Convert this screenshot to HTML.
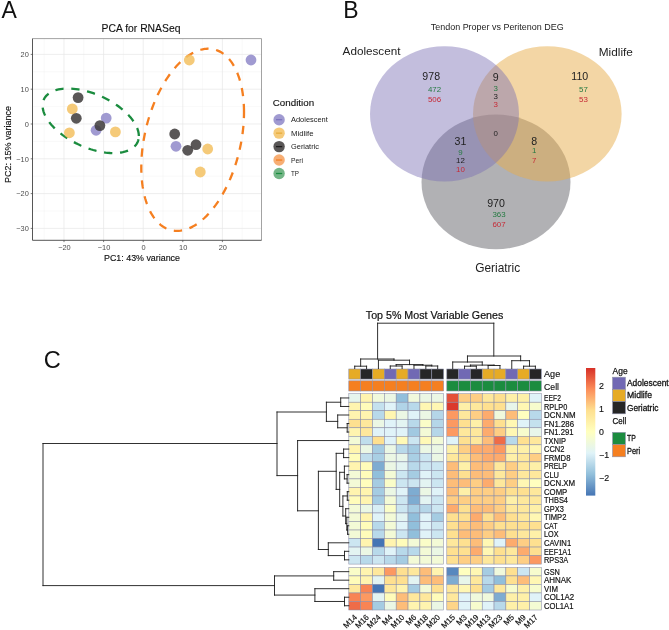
<!DOCTYPE html>
<html><head><meta charset="utf-8"><title>Figure</title>
<style>html,body{margin:0;padding:0;background:#fff}svg{display:block}text{font-family:"Liberation Sans", sans-serif}</style></head><body>
<svg width="669" height="630" viewBox="0 0 669 630">
<rect width="669" height="630" fill="#fff"/>
<g id="panelA">
<text x="1.5" y="18.4" font-size="23" fill="#111" text-anchor="start">A</text>
<text x="101.5" y="31.8" font-size="10.4" fill="#111" text-anchor="start" textLength="79" lengthAdjust="spacingAndGlyphs" stroke="#111" stroke-width="0.12">PCA for RNASeq</text>
<rect x="32.5" y="38.6" width="229.0" height="201.70000000000002" fill="#fff"/>
<path d="M44.20 38.6V240.3M83.80 38.6V240.3M123.40 38.6V240.3M163.00 38.6V240.3M202.60 38.6V240.3M242.20 38.6V240.3M32.5 211.00H261.5M32.5 176.20H261.5M32.5 141.40H261.5M32.5 106.60H261.5M32.5 71.80H261.5" stroke="#efefef" stroke-width="0.4" fill="none"/>
<path d="M64.00 38.6V240.3M103.60 38.6V240.3M143.20 38.6V240.3M182.80 38.6V240.3M222.40 38.6V240.3M32.5 228.40H261.5M32.5 193.60H261.5M32.5 158.80H261.5M32.5 124.00H261.5M32.5 89.20H261.5M32.5 54.40H261.5" stroke="#e6e6e6" stroke-width="0.7" fill="none"/>
<path d="M64.00 240.3v1.8M103.60 240.3v1.8M143.20 240.3v1.8M182.80 240.3v1.8M222.40 240.3v1.8M32.5 228.40h-1.8M32.5 193.60h-1.8M32.5 158.80h-1.8M32.5 124.00h-1.8M32.5 89.20h-1.8M32.5 54.40h-1.8" stroke="#444" stroke-width="0.7" fill="none"/>
<path d="M32.5 38.6H261.5V240.3" fill="none" stroke="#8c8c8c" stroke-width="0.8"/>
<path d="M32.5 38.6V240.3H261.5" fill="none" stroke="#444" stroke-width="0.9"/>
<text x="64.4" y="249.9" font-size="7.4" fill="#4d4d4d" text-anchor="middle">−20</text>
<text x="104.0" y="249.9" font-size="7.4" fill="#4d4d4d" text-anchor="middle">−10</text>
<text x="143.6" y="249.9" font-size="7.4" fill="#4d4d4d" text-anchor="middle">0</text>
<text x="183.2" y="249.9" font-size="7.4" fill="#4d4d4d" text-anchor="middle">10</text>
<text x="222.8" y="249.9" font-size="7.4" fill="#4d4d4d" text-anchor="middle">20</text>
<text x="28.8" y="231.1" font-size="7.4" fill="#4d4d4d" text-anchor="end">−30</text>
<text x="28.8" y="196.3" font-size="7.4" fill="#4d4d4d" text-anchor="end">−20</text>
<text x="28.8" y="161.5" font-size="7.4" fill="#4d4d4d" text-anchor="end">−10</text>
<text x="28.8" y="126.7" font-size="7.4" fill="#4d4d4d" text-anchor="end">0</text>
<text x="28.8" y="91.9" font-size="7.4" fill="#4d4d4d" text-anchor="end">10</text>
<text x="28.8" y="57.1" font-size="7.4" fill="#4d4d4d" text-anchor="end">20</text>
<text x="142" y="261.3" font-size="9.4" fill="#111" text-anchor="middle" textLength="76" lengthAdjust="spacingAndGlyphs" stroke="#111" stroke-width="0.15">PC1: 43% variance</text>
<text transform="translate(11.3,144.5) rotate(-90)" font-size="9.4" fill="#111" stroke="#111" stroke-width="0.15" text-anchor="middle" textLength="77" lengthAdjust="spacingAndGlyphs">PC2: 15% variance</text>
<path d="M138.84 136.07L138.78 134.56L138.58 133.01L138.26 131.43L137.80 129.82L137.21 128.18L136.50 126.53L135.66 124.86L134.70 123.18L133.61 121.49L132.41 119.80L131.10 118.11L129.67 116.43L128.14 114.76L126.50 113.11L124.77 111.48L122.94 109.88L121.03 108.30L119.03 106.76L116.95 105.26L114.80 103.80L112.59 102.39L110.32 101.03L107.99 99.72L105.61 98.47L103.20 97.28L100.75 96.15L98.27 95.10L95.77 94.11L93.26 93.20L90.74 92.36L88.22 91.60L85.71 90.92L83.21 90.32L80.73 89.81L78.28 89.38L75.86 89.03L73.48 88.78L71.15 88.61L68.88 88.53L66.66 88.54L64.51 88.63L62.43 88.82L60.43 89.09L58.51 89.45L56.68 89.89L54.95 90.42L53.31 91.04L51.77 91.73L50.34 92.51L49.03 93.36L47.82 94.29L46.73 95.29L45.77 96.36L44.92 97.49L44.21 98.69L43.62 99.95L43.15 101.27L42.82 102.65L42.62 104.07L42.56 105.53L42.62 107.04L42.82 108.59L43.14 110.17L43.60 111.78L44.19 113.42L44.90 115.07L45.74 116.74L46.70 118.42L47.79 120.11L48.99 121.80L50.30 123.49L51.73 125.17L53.26 126.84L54.90 128.49L56.63 130.12L58.46 131.72L60.37 133.30L62.37 134.84L64.45 136.34L66.60 137.80L68.81 139.21L71.08 140.57L73.41 141.88L75.79 143.13L78.20 144.32L80.65 145.45L83.13 146.50L85.63 147.49L88.14 148.40L90.66 149.24L93.18 150.00L95.69 150.68L98.19 151.28L100.67 151.79L103.12 152.22L105.54 152.57L107.92 152.82L110.25 152.99L112.52 153.07L114.74 153.06L116.89 152.97L118.97 152.78L120.97 152.51L122.89 152.15L124.72 151.71L126.45 151.18L128.09 150.56L129.63 149.87L131.06 149.09L132.37 148.24L133.58 147.31L134.67 146.31L135.63 145.24L136.48 144.11L137.19 142.91L137.78 141.65L138.25 140.33L138.58 138.95L138.78 137.53L138.84 136.07" fill="none" stroke="#1b8c3f" stroke-width="2.3" stroke-dasharray="8.3 7.7" stroke-linejoin="round"/>
<path d="M244.02 112.20L243.98 108.82L243.86 105.48L243.66 102.19L243.38 98.97L243.03 95.80L242.60 92.70L242.09 89.68L241.50 86.73L240.84 83.87L240.10 81.09L239.30 78.40L238.41 75.81L237.46 73.31L236.44 70.92L235.35 68.63L234.20 66.46L232.98 64.39L231.70 62.44L230.36 60.62L228.96 58.91L227.51 57.33L226.00 55.88L224.44 54.55L222.83 53.36L221.18 52.30L219.48 51.37L217.74 50.58L215.96 49.93L214.14 49.42L212.30 49.05L210.42 48.81L208.51 48.72L206.58 48.77L204.63 48.96L202.66 49.29L200.67 49.75L198.67 50.36L196.67 51.10L194.65 51.98L192.64 53.00L190.62 54.15L188.61 55.43L186.60 56.85L184.60 58.39L182.61 60.05L180.64 61.84L178.69 63.75L176.76 65.78L174.86 67.92L172.98 70.17L171.13 72.53L169.32 74.99L167.54 77.55L165.80 80.21L164.10 82.96L162.44 85.80L160.84 88.72L159.28 91.72L157.77 94.79L156.32 97.94L154.92 101.14L153.58 104.41L152.30 107.73L151.08 111.11L149.93 114.52L148.84 117.98L147.82 121.46L146.87 124.98L145.99 128.52L145.19 132.08L144.45 135.65L143.79 139.22L143.21 142.80L142.70 146.37L142.27 149.93L141.91 153.48L141.64 157.00L141.44 160.50L141.32 163.97L141.28 167.40L141.32 170.78L141.44 174.12L141.64 177.41L141.92 180.63L142.27 183.80L142.70 186.90L143.21 189.92L143.80 192.87L144.46 195.73L145.20 198.51L146.00 201.20L146.89 203.79L147.84 206.29L148.86 208.68L149.95 210.97L151.10 213.14L152.32 215.21L153.60 217.16L154.94 218.98L156.34 220.69L157.79 222.27L159.30 223.72L160.86 225.05L162.47 226.24L164.12 227.30L165.82 228.23L167.56 229.02L169.34 229.67L171.16 230.18L173.00 230.55L174.88 230.79L176.79 230.88L178.72 230.83L180.67 230.64L182.64 230.31L184.63 229.85L186.63 229.24L188.63 228.50L190.65 227.62L192.66 226.60L194.68 225.45L196.69 224.17L198.70 222.75L200.70 221.21L202.69 219.55L204.66 217.76L206.61 215.85L208.54 213.82L210.44 211.68L212.32 209.43L214.17 207.07L215.98 204.61L217.76 202.05L219.50 199.39L221.20 196.64L222.86 193.80L224.46 190.88L226.02 187.88L227.53 184.81L228.98 181.66L230.38 178.46L231.72 175.19L233.00 171.87L234.22 168.49L235.37 165.08L236.46 161.62L237.48 158.14L238.43 154.62L239.31 151.08L240.11 147.52L240.85 143.95L241.51 140.38L242.09 136.80L242.60 133.23L243.03 129.67L243.39 126.12L243.66 122.60L243.86 119.10L243.98 115.63L244.02 112.20" fill="none" stroke="#f57f20" stroke-width="2.3" stroke-dasharray="8.3 7.7" stroke-linejoin="round"/>
<circle cx="251" cy="60" r="5.4" fill="#8f88c9" fill-opacity="0.85"/>
<circle cx="189.3" cy="60" r="5.4" fill="#f3c162" fill-opacity="0.85"/>
<circle cx="78.1" cy="97.6" r="5.4" fill="#3d3a3a" fill-opacity="0.85"/>
<circle cx="72.3" cy="108.9" r="5.4" fill="#f3c162" fill-opacity="0.85"/>
<circle cx="76.3" cy="118.3" r="5.4" fill="#3d3a3a" fill-opacity="0.85"/>
<circle cx="106.2" cy="118.1" r="5.4" fill="#8f88c9" fill-opacity="0.85"/>
<circle cx="96.1" cy="130.3" r="5.4" fill="#8f88c9" fill-opacity="0.85"/>
<circle cx="99.9" cy="125.6" r="5.4" fill="#3d3a3a" fill-opacity="0.85"/>
<circle cx="69.4" cy="132.8" r="5.4" fill="#f3c162" fill-opacity="0.85"/>
<circle cx="115.4" cy="131.9" r="5.4" fill="#f3c162" fill-opacity="0.85"/>
<circle cx="174.7" cy="134" r="5.4" fill="#3d3a3a" fill-opacity="0.85"/>
<circle cx="176" cy="146.3" r="5.4" fill="#8f88c9" fill-opacity="0.85"/>
<circle cx="187.7" cy="150.3" r="5.4" fill="#3d3a3a" fill-opacity="0.85"/>
<circle cx="196" cy="144.7" r="5.4" fill="#3d3a3a" fill-opacity="0.85"/>
<circle cx="207.7" cy="149" r="5.4" fill="#f3c162" fill-opacity="0.85"/>
<circle cx="200.3" cy="172" r="5.4" fill="#f3c162" fill-opacity="0.85"/>
<text x="272.8" y="106.3" font-size="9" fill="#111" text-anchor="start" textLength="41.3" lengthAdjust="spacingAndGlyphs" stroke="#111" stroke-width="0.12">Condition</text>
<circle cx="279.1" cy="119.70" r="5.7" fill="#8f88c9" fill-opacity="0.85"/>
<path d="M276 119.70h6.2" stroke="#7d74bd" stroke-width="1.3"/>
<text x="291" y="122.40" font-size="7.7" fill="#1a1a1a" text-anchor="start" textLength="36.8" lengthAdjust="spacingAndGlyphs">Adolescent</text>
<circle cx="279.1" cy="133.15" r="5.7" fill="#f3c162" fill-opacity="0.85"/>
<path d="M276 133.15h6.2" stroke="#e8ad3a" stroke-width="1.3"/>
<text x="291" y="135.85" font-size="7.7" fill="#1a1a1a" text-anchor="start" textLength="22.5" lengthAdjust="spacingAndGlyphs">Midlife</text>
<circle cx="279.1" cy="146.60" r="5.7" fill="#3d3a3a" fill-opacity="0.85"/>
<path d="M276 146.60h6.2" stroke="#1e1c1c" stroke-width="1.3"/>
<text x="291" y="149.30" font-size="7.7" fill="#1a1a1a" text-anchor="start" textLength="28" lengthAdjust="spacingAndGlyphs">Geriatric</text>
<circle cx="279.1" cy="160.05" r="5.7" fill="#f6a05c" fill-opacity="0.85"/>
<path d="M276 160.05h6.2" stroke="#f57f20" stroke-width="1.3"/>
<text x="291" y="162.75" font-size="7.7" fill="#1a1a1a" text-anchor="start" textLength="12" lengthAdjust="spacingAndGlyphs">Peri</text>
<circle cx="279.1" cy="173.50" r="5.7" fill="#5aa871" fill-opacity="0.85"/>
<path d="M276 173.50h6.2" stroke="#1b8c3f" stroke-width="1.3"/>
<text x="291" y="176.20" font-size="7.7" fill="#1a1a1a" text-anchor="start" textLength="8" lengthAdjust="spacingAndGlyphs">TP</text>
</g>
<g id="panelB">
<text x="343.2" y="18.1" font-size="23" fill="#111" text-anchor="start">B</text>
<text x="430.8" y="29.8" font-size="8.6" fill="#222" text-anchor="start" textLength="132.8" lengthAdjust="spacingAndGlyphs">Tendon Proper vs Peritenon DEG</text>
<ellipse cx="496" cy="181.9" rx="74.5" ry="67.4" fill="#54555c" fill-opacity="0.46"/>
<ellipse cx="547.3" cy="113.9" rx="74.3" ry="67.6" fill="#e7ad4b" fill-opacity="0.5"/>
<ellipse cx="444.5" cy="113.9" rx="74.5" ry="67.6" fill="#7b6eb4" fill-opacity="0.45"/>
<text x="342.6" y="55.4" font-size="11.7" fill="#222" text-anchor="start">Adolescent</text>
<text x="598.8" y="55.8" font-size="11.8" fill="#222" text-anchor="start">Midlife</text>
<text x="475.2" y="272.2" font-size="11.9" fill="#222" text-anchor="start">Geriatric</text>
<text x="431.2" y="80.2" font-size="10.6" fill="#222" text-anchor="middle">978</text>
<text x="434.5" y="92.2" font-size="7.9" fill="#257a42" text-anchor="middle">472</text>
<text x="434.5" y="102.3" font-size="7.9" fill="#c62a36" text-anchor="middle">506</text>
<text x="495.6" y="80.89999999999999" font-size="10.6" fill="#222" text-anchor="middle">9</text>
<text x="495.6" y="91.39999999999999" font-size="7.9" fill="#257a42" text-anchor="middle">3</text>
<text x="495.6" y="99.3" font-size="7.9" fill="#222" text-anchor="middle">3</text>
<text x="495.6" y="107.3" font-size="7.9" fill="#c62a36" text-anchor="middle">3</text>
<text x="579.8" y="80.2" font-size="10.6" fill="#222" text-anchor="middle">110</text>
<text x="583.5" y="92.2" font-size="7.9" fill="#257a42" text-anchor="middle">57</text>
<text x="583.5" y="102.3" font-size="7.9" fill="#c62a36" text-anchor="middle">53</text>
<text x="495.6" y="135.70000000000002" font-size="7.9" fill="#222" text-anchor="middle">0</text>
<text x="460.5" y="144.60000000000002" font-size="10.6" fill="#222" text-anchor="middle">31</text>
<text x="460.5" y="154.8" font-size="7.9" fill="#257a42" text-anchor="middle">9</text>
<text x="460.5" y="163.20000000000002" font-size="7.9" fill="#222" text-anchor="middle">12</text>
<text x="460.5" y="171.9" font-size="7.9" fill="#c62a36" text-anchor="middle">10</text>
<text x="534.1" y="144.60000000000002" font-size="10.6" fill="#222" text-anchor="middle">8</text>
<text x="534.1" y="153.3" font-size="7.9" fill="#257a42" text-anchor="middle">1</text>
<text x="534.1" y="163.0" font-size="7.9" fill="#c62a36" text-anchor="middle">7</text>
<text x="496" y="207.10000000000002" font-size="10.6" fill="#222" text-anchor="middle">970</text>
<text x="499" y="217.0" font-size="7.9" fill="#257a42" text-anchor="middle">363</text>
<text x="499" y="227.0" font-size="7.9" fill="#c62a36" text-anchor="middle">607</text>
</g>
<g id="panelC">
<text x="43.8" y="368.2" font-size="23.6" fill="#111" text-anchor="start">C</text>
<text x="365.8" y="319.2" font-size="10.4" fill="#111" text-anchor="start" textLength="137.5" lengthAdjust="spacingAndGlyphs" stroke="#111" stroke-width="0.2">Top 5% Most Variable Genes</text>
<rect x="348.80" y="393.70" width="11.85" height="8.52" fill="#e6f5ed" stroke="#8c8fa8" stroke-width="0.55"/>
<rect x="360.65" y="393.70" width="11.85" height="8.52" fill="#fff4af" stroke="#8c8fa8" stroke-width="0.55"/>
<rect x="372.50" y="393.70" width="11.85" height="8.52" fill="#f0f9dc" stroke="#8c8fa8" stroke-width="0.55"/>
<rect x="384.35" y="393.70" width="11.85" height="8.52" fill="#ebf7e4" stroke="#8c8fa8" stroke-width="0.55"/>
<rect x="396.20" y="393.70" width="11.85" height="8.52" fill="#91bfdb" stroke="#8c8fa8" stroke-width="0.55"/>
<rect x="408.05" y="393.70" width="11.85" height="8.52" fill="#f0f9dc" stroke="#8c8fa8" stroke-width="0.55"/>
<rect x="419.90" y="393.70" width="11.85" height="8.52" fill="#ebf7e4" stroke="#8c8fa8" stroke-width="0.55"/>
<rect x="431.75" y="393.70" width="11.85" height="8.52" fill="#ebf7e4" stroke="#8c8fa8" stroke-width="0.55"/>
<rect x="348.80" y="402.22" width="11.85" height="8.52" fill="#fff4af" stroke="#8c8fa8" stroke-width="0.55"/>
<rect x="360.65" y="402.22" width="11.85" height="8.52" fill="#fffcba" stroke="#8c8fa8" stroke-width="0.55"/>
<rect x="372.50" y="402.22" width="11.85" height="8.52" fill="#c4e1ee" stroke="#8c8fa8" stroke-width="0.55"/>
<rect x="384.35" y="402.22" width="11.85" height="8.52" fill="#e0f3f8" stroke="#8c8fa8" stroke-width="0.55"/>
<rect x="396.20" y="402.22" width="11.85" height="8.52" fill="#b1d4e7" stroke="#8c8fa8" stroke-width="0.55"/>
<rect x="408.05" y="402.22" width="11.85" height="8.52" fill="#b8d9ea" stroke="#8c8fa8" stroke-width="0.55"/>
<rect x="419.90" y="402.22" width="11.85" height="8.52" fill="#fff7b3" stroke="#8c8fa8" stroke-width="0.55"/>
<rect x="431.75" y="402.22" width="11.85" height="8.52" fill="#fff7b3" stroke="#8c8fa8" stroke-width="0.55"/>
<rect x="348.80" y="410.74" width="11.85" height="8.52" fill="#fff4af" stroke="#8c8fa8" stroke-width="0.55"/>
<rect x="360.65" y="410.74" width="11.85" height="8.52" fill="#fff4af" stroke="#8c8fa8" stroke-width="0.55"/>
<rect x="372.50" y="410.74" width="11.85" height="8.52" fill="#b8d9ea" stroke="#8c8fa8" stroke-width="0.55"/>
<rect x="384.35" y="410.74" width="11.85" height="8.52" fill="#fff6b1" stroke="#8c8fa8" stroke-width="0.55"/>
<rect x="396.20" y="410.74" width="11.85" height="8.52" fill="#ebf7e4" stroke="#8c8fa8" stroke-width="0.55"/>
<rect x="408.05" y="410.74" width="11.85" height="8.52" fill="#e0f3f8" stroke="#8c8fa8" stroke-width="0.55"/>
<rect x="419.90" y="410.74" width="11.85" height="8.52" fill="#ebf7e4" stroke="#8c8fa8" stroke-width="0.55"/>
<rect x="431.75" y="410.74" width="11.85" height="8.52" fill="#b5d6e8" stroke="#8c8fa8" stroke-width="0.55"/>
<rect x="348.80" y="419.26" width="11.85" height="8.52" fill="#fee090" stroke="#8c8fa8" stroke-width="0.55"/>
<rect x="360.65" y="419.26" width="11.85" height="8.52" fill="#fee89c" stroke="#8c8fa8" stroke-width="0.55"/>
<rect x="372.50" y="419.26" width="11.85" height="8.52" fill="#ebf7e4" stroke="#8c8fa8" stroke-width="0.55"/>
<rect x="384.35" y="419.26" width="11.85" height="8.52" fill="#e0f3f8" stroke="#8c8fa8" stroke-width="0.55"/>
<rect x="396.20" y="419.26" width="11.85" height="8.52" fill="#e3f4f2" stroke="#8c8fa8" stroke-width="0.55"/>
<rect x="408.05" y="419.26" width="11.85" height="8.52" fill="#b8d9ea" stroke="#8c8fa8" stroke-width="0.55"/>
<rect x="419.90" y="419.26" width="11.85" height="8.52" fill="#fafdc8" stroke="#8c8fa8" stroke-width="0.55"/>
<rect x="431.75" y="419.26" width="11.85" height="8.52" fill="#b5d6e8" stroke="#8c8fa8" stroke-width="0.55"/>
<rect x="348.80" y="427.78" width="11.85" height="8.52" fill="#fff4af" stroke="#8c8fa8" stroke-width="0.55"/>
<rect x="360.65" y="427.78" width="11.85" height="8.52" fill="#fee89c" stroke="#8c8fa8" stroke-width="0.55"/>
<rect x="372.50" y="427.78" width="11.85" height="8.52" fill="#e0f3f8" stroke="#8c8fa8" stroke-width="0.55"/>
<rect x="384.35" y="427.78" width="11.85" height="8.52" fill="#e0f3f8" stroke="#8c8fa8" stroke-width="0.55"/>
<rect x="396.20" y="427.78" width="11.85" height="8.52" fill="#e0f3f8" stroke="#8c8fa8" stroke-width="0.55"/>
<rect x="408.05" y="427.78" width="11.85" height="8.52" fill="#a1c9e1" stroke="#8c8fa8" stroke-width="0.55"/>
<rect x="419.90" y="427.78" width="11.85" height="8.52" fill="#f3fad6" stroke="#8c8fa8" stroke-width="0.55"/>
<rect x="431.75" y="427.78" width="11.85" height="8.52" fill="#b5d6e8" stroke="#8c8fa8" stroke-width="0.55"/>
<rect x="348.80" y="436.30" width="11.85" height="8.52" fill="#f3fad6" stroke="#8c8fa8" stroke-width="0.55"/>
<rect x="360.65" y="436.30" width="11.85" height="8.52" fill="#c0deec" stroke="#8c8fa8" stroke-width="0.55"/>
<rect x="372.50" y="436.30" width="11.85" height="8.52" fill="#fee090" stroke="#8c8fa8" stroke-width="0.55"/>
<rect x="384.35" y="436.30" width="11.85" height="8.52" fill="#e0f3f8" stroke="#8c8fa8" stroke-width="0.55"/>
<rect x="396.20" y="436.30" width="11.85" height="8.52" fill="#fff9b6" stroke="#8c8fa8" stroke-width="0.55"/>
<rect x="408.05" y="436.30" width="11.85" height="8.52" fill="#cce6f1" stroke="#8c8fa8" stroke-width="0.55"/>
<rect x="419.90" y="436.30" width="11.85" height="8.52" fill="#fff9b6" stroke="#8c8fa8" stroke-width="0.55"/>
<rect x="431.75" y="436.30" width="11.85" height="8.52" fill="#f3fad6" stroke="#8c8fa8" stroke-width="0.55"/>
<rect x="348.80" y="444.82" width="11.85" height="8.52" fill="#fff4af" stroke="#8c8fa8" stroke-width="0.55"/>
<rect x="360.65" y="444.82" width="11.85" height="8.52" fill="#ebf7e4" stroke="#8c8fa8" stroke-width="0.55"/>
<rect x="372.50" y="444.82" width="11.85" height="8.52" fill="#a5cce2" stroke="#8c8fa8" stroke-width="0.55"/>
<rect x="384.35" y="444.82" width="11.85" height="8.52" fill="#ebf7e4" stroke="#8c8fa8" stroke-width="0.55"/>
<rect x="396.20" y="444.82" width="11.85" height="8.52" fill="#b8d9ea" stroke="#8c8fa8" stroke-width="0.55"/>
<rect x="408.05" y="444.82" width="11.85" height="8.52" fill="#a5cce2" stroke="#8c8fa8" stroke-width="0.55"/>
<rect x="419.90" y="444.82" width="11.85" height="8.52" fill="#ebf7e4" stroke="#8c8fa8" stroke-width="0.55"/>
<rect x="431.75" y="444.82" width="11.85" height="8.52" fill="#ebf7e4" stroke="#8c8fa8" stroke-width="0.55"/>
<rect x="348.80" y="453.34" width="11.85" height="8.52" fill="#fffcba" stroke="#8c8fa8" stroke-width="0.55"/>
<rect x="360.65" y="453.34" width="11.85" height="8.52" fill="#c0deec" stroke="#8c8fa8" stroke-width="0.55"/>
<rect x="372.50" y="453.34" width="11.85" height="8.52" fill="#a9cfe4" stroke="#8c8fa8" stroke-width="0.55"/>
<rect x="384.35" y="453.34" width="11.85" height="8.52" fill="#ebf7e4" stroke="#8c8fa8" stroke-width="0.55"/>
<rect x="396.20" y="453.34" width="11.85" height="8.52" fill="#e8f6ea" stroke="#8c8fa8" stroke-width="0.55"/>
<rect x="408.05" y="453.34" width="11.85" height="8.52" fill="#a9cfe4" stroke="#8c8fa8" stroke-width="0.55"/>
<rect x="419.90" y="453.34" width="11.85" height="8.52" fill="#cce6f1" stroke="#8c8fa8" stroke-width="0.55"/>
<rect x="431.75" y="453.34" width="11.85" height="8.52" fill="#ebf7e4" stroke="#8c8fa8" stroke-width="0.55"/>
<rect x="348.80" y="461.86" width="11.85" height="8.52" fill="#fff4af" stroke="#8c8fa8" stroke-width="0.55"/>
<rect x="360.65" y="461.86" width="11.85" height="8.52" fill="#fffcba" stroke="#8c8fa8" stroke-width="0.55"/>
<rect x="372.50" y="461.86" width="11.85" height="8.52" fill="#7eacd1" stroke="#8c8fa8" stroke-width="0.55"/>
<rect x="384.35" y="461.86" width="11.85" height="8.52" fill="#ebf7e4" stroke="#8c8fa8" stroke-width="0.55"/>
<rect x="396.20" y="461.86" width="11.85" height="8.52" fill="#e3f4f2" stroke="#8c8fa8" stroke-width="0.55"/>
<rect x="408.05" y="461.86" width="11.85" height="8.52" fill="#b8d9ea" stroke="#8c8fa8" stroke-width="0.55"/>
<rect x="419.90" y="461.86" width="11.85" height="8.52" fill="#cce6f1" stroke="#8c8fa8" stroke-width="0.55"/>
<rect x="431.75" y="461.86" width="11.85" height="8.52" fill="#cce6f1" stroke="#8c8fa8" stroke-width="0.55"/>
<rect x="348.80" y="470.38" width="11.85" height="8.52" fill="#f3fad6" stroke="#8c8fa8" stroke-width="0.55"/>
<rect x="360.65" y="470.38" width="11.85" height="8.52" fill="#fffcba" stroke="#8c8fa8" stroke-width="0.55"/>
<rect x="372.50" y="470.38" width="11.85" height="8.52" fill="#91bfdb" stroke="#8c8fa8" stroke-width="0.55"/>
<rect x="384.35" y="470.38" width="11.85" height="8.52" fill="#f3fad6" stroke="#8c8fa8" stroke-width="0.55"/>
<rect x="396.20" y="470.38" width="11.85" height="8.52" fill="#cce6f1" stroke="#8c8fa8" stroke-width="0.55"/>
<rect x="408.05" y="470.38" width="11.85" height="8.52" fill="#a5cce2" stroke="#8c8fa8" stroke-width="0.55"/>
<rect x="419.90" y="470.38" width="11.85" height="8.52" fill="#e0f3f8" stroke="#8c8fa8" stroke-width="0.55"/>
<rect x="431.75" y="470.38" width="11.85" height="8.52" fill="#cce6f1" stroke="#8c8fa8" stroke-width="0.55"/>
<rect x="348.80" y="478.90" width="11.85" height="8.52" fill="#f3fad6" stroke="#8c8fa8" stroke-width="0.55"/>
<rect x="360.65" y="478.90" width="11.85" height="8.52" fill="#fffdbd" stroke="#8c8fa8" stroke-width="0.55"/>
<rect x="372.50" y="478.90" width="11.85" height="8.52" fill="#a5cce2" stroke="#8c8fa8" stroke-width="0.55"/>
<rect x="384.35" y="478.90" width="11.85" height="8.52" fill="#fafdc8" stroke="#8c8fa8" stroke-width="0.55"/>
<rect x="396.20" y="478.90" width="11.85" height="8.52" fill="#cce6f1" stroke="#8c8fa8" stroke-width="0.55"/>
<rect x="408.05" y="478.90" width="11.85" height="8.52" fill="#cce6f1" stroke="#8c8fa8" stroke-width="0.55"/>
<rect x="419.90" y="478.90" width="11.85" height="8.52" fill="#e3f4f2" stroke="#8c8fa8" stroke-width="0.55"/>
<rect x="431.75" y="478.90" width="11.85" height="8.52" fill="#cce6f1" stroke="#8c8fa8" stroke-width="0.55"/>
<rect x="348.80" y="487.42" width="11.85" height="8.52" fill="#fff4af" stroke="#8c8fa8" stroke-width="0.55"/>
<rect x="360.65" y="487.42" width="11.85" height="8.52" fill="#fff4af" stroke="#8c8fa8" stroke-width="0.55"/>
<rect x="372.50" y="487.42" width="11.85" height="8.52" fill="#a5cce2" stroke="#8c8fa8" stroke-width="0.55"/>
<rect x="384.35" y="487.42" width="11.85" height="8.52" fill="#ebf7e4" stroke="#8c8fa8" stroke-width="0.55"/>
<rect x="396.20" y="487.42" width="11.85" height="8.52" fill="#e0f3f8" stroke="#8c8fa8" stroke-width="0.55"/>
<rect x="408.05" y="487.42" width="11.85" height="8.52" fill="#7eacd1" stroke="#8c8fa8" stroke-width="0.55"/>
<rect x="419.90" y="487.42" width="11.85" height="8.52" fill="#ebf7e4" stroke="#8c8fa8" stroke-width="0.55"/>
<rect x="431.75" y="487.42" width="11.85" height="8.52" fill="#e0f3f8" stroke="#8c8fa8" stroke-width="0.55"/>
<rect x="348.80" y="495.94" width="11.85" height="8.52" fill="#fffcba" stroke="#8c8fa8" stroke-width="0.55"/>
<rect x="360.65" y="495.94" width="11.85" height="8.52" fill="#fff4af" stroke="#8c8fa8" stroke-width="0.55"/>
<rect x="372.50" y="495.94" width="11.85" height="8.52" fill="#a5cce2" stroke="#8c8fa8" stroke-width="0.55"/>
<rect x="384.35" y="495.94" width="11.85" height="8.52" fill="#f3fad6" stroke="#8c8fa8" stroke-width="0.55"/>
<rect x="396.20" y="495.94" width="11.85" height="8.52" fill="#cce6f1" stroke="#8c8fa8" stroke-width="0.55"/>
<rect x="408.05" y="495.94" width="11.85" height="8.52" fill="#7eacd1" stroke="#8c8fa8" stroke-width="0.55"/>
<rect x="419.90" y="495.94" width="11.85" height="8.52" fill="#e3f4f2" stroke="#8c8fa8" stroke-width="0.55"/>
<rect x="431.75" y="495.94" width="11.85" height="8.52" fill="#cce6f1" stroke="#8c8fa8" stroke-width="0.55"/>
<rect x="348.80" y="504.46" width="11.85" height="8.52" fill="#f3fad6" stroke="#8c8fa8" stroke-width="0.55"/>
<rect x="360.65" y="504.46" width="11.85" height="8.52" fill="#ebf7e4" stroke="#8c8fa8" stroke-width="0.55"/>
<rect x="372.50" y="504.46" width="11.85" height="8.52" fill="#d8eef5" stroke="#8c8fa8" stroke-width="0.55"/>
<rect x="384.35" y="504.46" width="11.85" height="8.52" fill="#fafdc8" stroke="#8c8fa8" stroke-width="0.55"/>
<rect x="396.20" y="504.46" width="11.85" height="8.52" fill="#cce6f1" stroke="#8c8fa8" stroke-width="0.55"/>
<rect x="408.05" y="504.46" width="11.85" height="8.52" fill="#a9cfe4" stroke="#8c8fa8" stroke-width="0.55"/>
<rect x="419.90" y="504.46" width="11.85" height="8.52" fill="#b5d6e8" stroke="#8c8fa8" stroke-width="0.55"/>
<rect x="431.75" y="504.46" width="11.85" height="8.52" fill="#cce6f1" stroke="#8c8fa8" stroke-width="0.55"/>
<rect x="348.80" y="512.98" width="11.85" height="8.52" fill="#f3fad6" stroke="#8c8fa8" stroke-width="0.55"/>
<rect x="360.65" y="512.98" width="11.85" height="8.52" fill="#fff4af" stroke="#8c8fa8" stroke-width="0.55"/>
<rect x="372.50" y="512.98" width="11.85" height="8.52" fill="#e0f3f8" stroke="#8c8fa8" stroke-width="0.55"/>
<rect x="384.35" y="512.98" width="11.85" height="8.52" fill="#f3fad6" stroke="#8c8fa8" stroke-width="0.55"/>
<rect x="396.20" y="512.98" width="11.85" height="8.52" fill="#e3f4f2" stroke="#8c8fa8" stroke-width="0.55"/>
<rect x="408.05" y="512.98" width="11.85" height="8.52" fill="#91bfdb" stroke="#8c8fa8" stroke-width="0.55"/>
<rect x="419.90" y="512.98" width="11.85" height="8.52" fill="#e0f3f8" stroke="#8c8fa8" stroke-width="0.55"/>
<rect x="431.75" y="512.98" width="11.85" height="8.52" fill="#a5cce2" stroke="#8c8fa8" stroke-width="0.55"/>
<rect x="348.80" y="521.50" width="11.85" height="8.52" fill="#f3fad6" stroke="#8c8fa8" stroke-width="0.55"/>
<rect x="360.65" y="521.50" width="11.85" height="8.52" fill="#fffcba" stroke="#8c8fa8" stroke-width="0.55"/>
<rect x="372.50" y="521.50" width="11.85" height="8.52" fill="#b8d9ea" stroke="#8c8fa8" stroke-width="0.55"/>
<rect x="384.35" y="521.50" width="11.85" height="8.52" fill="#f3fad6" stroke="#8c8fa8" stroke-width="0.55"/>
<rect x="396.20" y="521.50" width="11.85" height="8.52" fill="#e0f3f8" stroke="#8c8fa8" stroke-width="0.55"/>
<rect x="408.05" y="521.50" width="11.85" height="8.52" fill="#91bfdb" stroke="#8c8fa8" stroke-width="0.55"/>
<rect x="419.90" y="521.50" width="11.85" height="8.52" fill="#e0f3f8" stroke="#8c8fa8" stroke-width="0.55"/>
<rect x="431.75" y="521.50" width="11.85" height="8.52" fill="#cce6f1" stroke="#8c8fa8" stroke-width="0.55"/>
<rect x="348.80" y="530.02" width="11.85" height="8.52" fill="#f3fad6" stroke="#8c8fa8" stroke-width="0.55"/>
<rect x="360.65" y="530.02" width="11.85" height="8.52" fill="#fffcba" stroke="#8c8fa8" stroke-width="0.55"/>
<rect x="372.50" y="530.02" width="11.85" height="8.52" fill="#b8d9ea" stroke="#8c8fa8" stroke-width="0.55"/>
<rect x="384.35" y="530.02" width="11.85" height="8.52" fill="#f3fad6" stroke="#8c8fa8" stroke-width="0.55"/>
<rect x="396.20" y="530.02" width="11.85" height="8.52" fill="#cce6f1" stroke="#8c8fa8" stroke-width="0.55"/>
<rect x="408.05" y="530.02" width="11.85" height="8.52" fill="#91bfdb" stroke="#8c8fa8" stroke-width="0.55"/>
<rect x="419.90" y="530.02" width="11.85" height="8.52" fill="#e0f3f8" stroke="#8c8fa8" stroke-width="0.55"/>
<rect x="431.75" y="530.02" width="11.85" height="8.52" fill="#cce6f1" stroke="#8c8fa8" stroke-width="0.55"/>
<rect x="348.80" y="538.54" width="11.85" height="8.52" fill="#cce6f1" stroke="#8c8fa8" stroke-width="0.55"/>
<rect x="360.65" y="538.54" width="11.85" height="8.52" fill="#fff4af" stroke="#8c8fa8" stroke-width="0.55"/>
<rect x="372.50" y="538.54" width="11.85" height="8.52" fill="#4575b4" stroke="#8c8fa8" stroke-width="0.55"/>
<rect x="384.35" y="538.54" width="11.85" height="8.52" fill="#fff4af" stroke="#8c8fa8" stroke-width="0.55"/>
<rect x="396.20" y="538.54" width="11.85" height="8.52" fill="#fffcba" stroke="#8c8fa8" stroke-width="0.55"/>
<rect x="408.05" y="538.54" width="11.85" height="8.52" fill="#f3fad6" stroke="#8c8fa8" stroke-width="0.55"/>
<rect x="419.90" y="538.54" width="11.85" height="8.52" fill="#fafdc8" stroke="#8c8fa8" stroke-width="0.55"/>
<rect x="431.75" y="538.54" width="11.85" height="8.52" fill="#f3fad6" stroke="#8c8fa8" stroke-width="0.55"/>
<rect x="348.80" y="547.06" width="11.85" height="8.52" fill="#e3f4f2" stroke="#8c8fa8" stroke-width="0.55"/>
<rect x="360.65" y="547.06" width="11.85" height="8.52" fill="#ebf7e4" stroke="#8c8fa8" stroke-width="0.55"/>
<rect x="372.50" y="547.06" width="11.85" height="8.52" fill="#b8d9ea" stroke="#8c8fa8" stroke-width="0.55"/>
<rect x="384.35" y="547.06" width="11.85" height="8.52" fill="#e0f3f8" stroke="#8c8fa8" stroke-width="0.55"/>
<rect x="396.20" y="547.06" width="11.85" height="8.52" fill="#b8d9ea" stroke="#8c8fa8" stroke-width="0.55"/>
<rect x="408.05" y="547.06" width="11.85" height="8.52" fill="#b8d9ea" stroke="#8c8fa8" stroke-width="0.55"/>
<rect x="419.90" y="547.06" width="11.85" height="8.52" fill="#f3fad6" stroke="#8c8fa8" stroke-width="0.55"/>
<rect x="431.75" y="547.06" width="11.85" height="8.52" fill="#ebf7e4" stroke="#8c8fa8" stroke-width="0.55"/>
<rect x="348.80" y="555.58" width="11.85" height="8.52" fill="#cce6f1" stroke="#8c8fa8" stroke-width="0.55"/>
<rect x="360.65" y="555.58" width="11.85" height="8.52" fill="#b8d9ea" stroke="#8c8fa8" stroke-width="0.55"/>
<rect x="372.50" y="555.58" width="11.85" height="8.52" fill="#cce6f1" stroke="#8c8fa8" stroke-width="0.55"/>
<rect x="384.35" y="555.58" width="11.85" height="8.52" fill="#b8d9ea" stroke="#8c8fa8" stroke-width="0.55"/>
<rect x="396.20" y="555.58" width="11.85" height="8.52" fill="#a5cce2" stroke="#8c8fa8" stroke-width="0.55"/>
<rect x="408.05" y="555.58" width="11.85" height="8.52" fill="#f3fad6" stroke="#8c8fa8" stroke-width="0.55"/>
<rect x="419.90" y="555.58" width="11.85" height="8.52" fill="#f3fad6" stroke="#8c8fa8" stroke-width="0.55"/>
<rect x="431.75" y="555.58" width="11.85" height="8.52" fill="#f3fad6" stroke="#8c8fa8" stroke-width="0.55"/>
<rect x="348.80" y="567.40" width="11.85" height="8.52" fill="#fafdc8" stroke="#8c8fa8" stroke-width="0.55"/>
<rect x="360.65" y="567.40" width="11.85" height="8.52" fill="#fff4af" stroke="#8c8fa8" stroke-width="0.55"/>
<rect x="372.50" y="567.40" width="11.85" height="8.52" fill="#fee89c" stroke="#8c8fa8" stroke-width="0.55"/>
<rect x="384.35" y="567.40" width="11.85" height="8.52" fill="#fc9961" stroke="#8c8fa8" stroke-width="0.55"/>
<rect x="396.20" y="567.40" width="11.85" height="8.52" fill="#fee090" stroke="#8c8fa8" stroke-width="0.55"/>
<rect x="408.05" y="567.40" width="11.85" height="8.52" fill="#fee89c" stroke="#8c8fa8" stroke-width="0.55"/>
<rect x="419.90" y="567.40" width="11.85" height="8.52" fill="#fdbd79" stroke="#8c8fa8" stroke-width="0.55"/>
<rect x="431.75" y="567.40" width="11.85" height="8.52" fill="#fff4af" stroke="#8c8fa8" stroke-width="0.55"/>
<rect x="348.80" y="575.92" width="11.85" height="8.52" fill="#fffcba" stroke="#8c8fa8" stroke-width="0.55"/>
<rect x="360.65" y="575.92" width="11.85" height="8.52" fill="#fff4af" stroke="#8c8fa8" stroke-width="0.55"/>
<rect x="372.50" y="575.92" width="11.85" height="8.52" fill="#e3f4f2" stroke="#8c8fa8" stroke-width="0.55"/>
<rect x="384.35" y="575.92" width="11.85" height="8.52" fill="#fee090" stroke="#8c8fa8" stroke-width="0.55"/>
<rect x="396.20" y="575.92" width="11.85" height="8.52" fill="#fee090" stroke="#8c8fa8" stroke-width="0.55"/>
<rect x="408.05" y="575.92" width="11.85" height="8.52" fill="#e3f4f2" stroke="#8c8fa8" stroke-width="0.55"/>
<rect x="419.90" y="575.92" width="11.85" height="8.52" fill="#fdbd79" stroke="#8c8fa8" stroke-width="0.55"/>
<rect x="431.75" y="575.92" width="11.85" height="8.52" fill="#fdbd79" stroke="#8c8fa8" stroke-width="0.55"/>
<rect x="348.80" y="584.44" width="11.85" height="8.52" fill="#fee89c" stroke="#8c8fa8" stroke-width="0.55"/>
<rect x="360.65" y="584.44" width="11.85" height="8.52" fill="#f88454" stroke="#8c8fa8" stroke-width="0.55"/>
<rect x="372.50" y="584.44" width="11.85" height="8.52" fill="#4575b4" stroke="#8c8fa8" stroke-width="0.55"/>
<rect x="384.35" y="584.44" width="11.85" height="8.52" fill="#fee89c" stroke="#8c8fa8" stroke-width="0.55"/>
<rect x="396.20" y="584.44" width="11.85" height="8.52" fill="#fff4af" stroke="#8c8fa8" stroke-width="0.55"/>
<rect x="408.05" y="584.44" width="11.85" height="8.52" fill="#a5cce2" stroke="#8c8fa8" stroke-width="0.55"/>
<rect x="419.90" y="584.44" width="11.85" height="8.52" fill="#f3fad6" stroke="#8c8fa8" stroke-width="0.55"/>
<rect x="431.75" y="584.44" width="11.85" height="8.52" fill="#fee090" stroke="#8c8fa8" stroke-width="0.55"/>
<rect x="348.80" y="592.96" width="11.85" height="8.52" fill="#f88454" stroke="#8c8fa8" stroke-width="0.55"/>
<rect x="360.65" y="592.96" width="11.85" height="8.52" fill="#fc9961" stroke="#8c8fa8" stroke-width="0.55"/>
<rect x="372.50" y="592.96" width="11.85" height="8.52" fill="#e3f4f2" stroke="#8c8fa8" stroke-width="0.55"/>
<rect x="384.35" y="592.96" width="11.85" height="8.52" fill="#fffcba" stroke="#8c8fa8" stroke-width="0.55"/>
<rect x="396.20" y="592.96" width="11.85" height="8.52" fill="#fdbd79" stroke="#8c8fa8" stroke-width="0.55"/>
<rect x="408.05" y="592.96" width="11.85" height="8.52" fill="#fee89c" stroke="#8c8fa8" stroke-width="0.55"/>
<rect x="419.90" y="592.96" width="11.85" height="8.52" fill="#fee89c" stroke="#8c8fa8" stroke-width="0.55"/>
<rect x="431.75" y="592.96" width="11.85" height="8.52" fill="#fffcba" stroke="#8c8fa8" stroke-width="0.55"/>
<rect x="348.80" y="601.48" width="11.85" height="8.52" fill="#ef6c48" stroke="#8c8fa8" stroke-width="0.55"/>
<rect x="360.65" y="601.48" width="11.85" height="8.52" fill="#f88454" stroke="#8c8fa8" stroke-width="0.55"/>
<rect x="372.50" y="601.48" width="11.85" height="8.52" fill="#a5cce2" stroke="#8c8fa8" stroke-width="0.55"/>
<rect x="384.35" y="601.48" width="11.85" height="8.52" fill="#ebf7e4" stroke="#8c8fa8" stroke-width="0.55"/>
<rect x="396.20" y="601.48" width="11.85" height="8.52" fill="#fdbd79" stroke="#8c8fa8" stroke-width="0.55"/>
<rect x="408.05" y="601.48" width="11.85" height="8.52" fill="#fff4af" stroke="#8c8fa8" stroke-width="0.55"/>
<rect x="419.90" y="601.48" width="11.85" height="8.52" fill="#fff4af" stroke="#8c8fa8" stroke-width="0.55"/>
<rect x="431.75" y="601.48" width="11.85" height="8.52" fill="#ebf7e4" stroke="#8c8fa8" stroke-width="0.55"/>
<rect x="446.80" y="393.70" width="11.81" height="8.52" fill="#e45138" stroke="#8c8fa8" stroke-width="0.55"/>
<rect x="458.61" y="393.70" width="11.81" height="8.52" fill="#fece84" stroke="#8c8fa8" stroke-width="0.55"/>
<rect x="470.43" y="393.70" width="11.81" height="8.52" fill="#fece84" stroke="#8c8fa8" stroke-width="0.55"/>
<rect x="482.24" y="393.70" width="11.81" height="8.52" fill="#fee89c" stroke="#8c8fa8" stroke-width="0.55"/>
<rect x="494.05" y="393.70" width="11.81" height="8.52" fill="#fee090" stroke="#8c8fa8" stroke-width="0.55"/>
<rect x="505.86" y="393.70" width="11.81" height="8.52" fill="#fef0a8" stroke="#8c8fa8" stroke-width="0.55"/>
<rect x="517.67" y="393.70" width="11.81" height="8.52" fill="#fef0a8" stroke="#8c8fa8" stroke-width="0.55"/>
<rect x="529.49" y="393.70" width="11.81" height="8.52" fill="#e0f3f8" stroke="#8c8fa8" stroke-width="0.55"/>
<rect x="446.80" y="402.22" width="11.81" height="8.52" fill="#db392c" stroke="#8c8fa8" stroke-width="0.55"/>
<rect x="458.61" y="402.22" width="11.81" height="8.52" fill="#fef0a8" stroke="#8c8fa8" stroke-width="0.55"/>
<rect x="470.43" y="402.22" width="11.81" height="8.52" fill="#fee89c" stroke="#8c8fa8" stroke-width="0.55"/>
<rect x="482.24" y="402.22" width="11.81" height="8.52" fill="#fee090" stroke="#8c8fa8" stroke-width="0.55"/>
<rect x="494.05" y="402.22" width="11.81" height="8.52" fill="#fee090" stroke="#8c8fa8" stroke-width="0.55"/>
<rect x="505.86" y="402.22" width="11.81" height="8.52" fill="#e8f6ea" stroke="#8c8fa8" stroke-width="0.55"/>
<rect x="517.67" y="402.22" width="11.81" height="8.52" fill="#fff7b3" stroke="#8c8fa8" stroke-width="0.55"/>
<rect x="529.49" y="402.22" width="11.81" height="8.52" fill="#f7fccd" stroke="#8c8fa8" stroke-width="0.55"/>
<rect x="446.80" y="410.74" width="11.81" height="8.52" fill="#fc9961" stroke="#8c8fa8" stroke-width="0.55"/>
<rect x="458.61" y="410.74" width="11.81" height="8.52" fill="#fee89c" stroke="#8c8fa8" stroke-width="0.55"/>
<rect x="470.43" y="410.74" width="11.81" height="8.52" fill="#fece84" stroke="#8c8fa8" stroke-width="0.55"/>
<rect x="482.24" y="410.74" width="11.81" height="8.52" fill="#fdab6d" stroke="#8c8fa8" stroke-width="0.55"/>
<rect x="494.05" y="410.74" width="11.81" height="8.52" fill="#f0f9dc" stroke="#8c8fa8" stroke-width="0.55"/>
<rect x="505.86" y="410.74" width="11.81" height="8.52" fill="#fdbd79" stroke="#8c8fa8" stroke-width="0.55"/>
<rect x="517.67" y="410.74" width="11.81" height="8.52" fill="#ffffbf" stroke="#8c8fa8" stroke-width="0.55"/>
<rect x="529.49" y="410.74" width="11.81" height="8.52" fill="#b8d9ea" stroke="#8c8fa8" stroke-width="0.55"/>
<rect x="446.80" y="419.26" width="11.81" height="8.52" fill="#fc9961" stroke="#8c8fa8" stroke-width="0.55"/>
<rect x="458.61" y="419.26" width="11.81" height="8.52" fill="#fee090" stroke="#8c8fa8" stroke-width="0.55"/>
<rect x="470.43" y="419.26" width="11.81" height="8.52" fill="#fef0a8" stroke="#8c8fa8" stroke-width="0.55"/>
<rect x="482.24" y="419.26" width="11.81" height="8.52" fill="#fdab6d" stroke="#8c8fa8" stroke-width="0.55"/>
<rect x="494.05" y="419.26" width="11.81" height="8.52" fill="#fee090" stroke="#8c8fa8" stroke-width="0.55"/>
<rect x="505.86" y="419.26" width="11.81" height="8.52" fill="#fff7b3" stroke="#8c8fa8" stroke-width="0.55"/>
<rect x="517.67" y="419.26" width="11.81" height="8.52" fill="#e0f3f8" stroke="#8c8fa8" stroke-width="0.55"/>
<rect x="529.49" y="419.26" width="11.81" height="8.52" fill="#c4e1ee" stroke="#8c8fa8" stroke-width="0.55"/>
<rect x="446.80" y="427.78" width="11.81" height="8.52" fill="#fc9961" stroke="#8c8fa8" stroke-width="0.55"/>
<rect x="458.61" y="427.78" width="11.81" height="8.52" fill="#fee89c" stroke="#8c8fa8" stroke-width="0.55"/>
<rect x="470.43" y="427.78" width="11.81" height="8.52" fill="#fee89c" stroke="#8c8fa8" stroke-width="0.55"/>
<rect x="482.24" y="427.78" width="11.81" height="8.52" fill="#fdab6d" stroke="#8c8fa8" stroke-width="0.55"/>
<rect x="494.05" y="427.78" width="11.81" height="8.52" fill="#fece84" stroke="#8c8fa8" stroke-width="0.55"/>
<rect x="505.86" y="427.78" width="11.81" height="8.52" fill="#fff7b3" stroke="#8c8fa8" stroke-width="0.55"/>
<rect x="517.67" y="427.78" width="11.81" height="8.52" fill="#f7fccd" stroke="#8c8fa8" stroke-width="0.55"/>
<rect x="529.49" y="427.78" width="11.81" height="8.52" fill="#e8f6ea" stroke="#8c8fa8" stroke-width="0.55"/>
<rect x="446.80" y="436.30" width="11.81" height="8.52" fill="#e0f3f8" stroke="#8c8fa8" stroke-width="0.55"/>
<rect x="458.61" y="436.30" width="11.81" height="8.52" fill="#fee090" stroke="#8c8fa8" stroke-width="0.55"/>
<rect x="470.43" y="436.30" width="11.81" height="8.52" fill="#fee89c" stroke="#8c8fa8" stroke-width="0.55"/>
<rect x="482.24" y="436.30" width="11.81" height="8.52" fill="#fdbd79" stroke="#8c8fa8" stroke-width="0.55"/>
<rect x="494.05" y="436.30" width="11.81" height="8.52" fill="#ef6c48" stroke="#8c8fa8" stroke-width="0.55"/>
<rect x="505.86" y="436.30" width="11.81" height="8.52" fill="#b8d9ea" stroke="#8c8fa8" stroke-width="0.55"/>
<rect x="517.67" y="436.30" width="11.81" height="8.52" fill="#fee090" stroke="#8c8fa8" stroke-width="0.55"/>
<rect x="529.49" y="436.30" width="11.81" height="8.52" fill="#fee89c" stroke="#8c8fa8" stroke-width="0.55"/>
<rect x="446.80" y="444.82" width="11.81" height="8.52" fill="#fef0a8" stroke="#8c8fa8" stroke-width="0.55"/>
<rect x="458.61" y="444.82" width="11.81" height="8.52" fill="#fece84" stroke="#8c8fa8" stroke-width="0.55"/>
<rect x="470.43" y="444.82" width="11.81" height="8.52" fill="#fdab6d" stroke="#8c8fa8" stroke-width="0.55"/>
<rect x="482.24" y="444.82" width="11.81" height="8.52" fill="#fdab6d" stroke="#8c8fa8" stroke-width="0.55"/>
<rect x="494.05" y="444.82" width="11.81" height="8.52" fill="#fc9961" stroke="#8c8fa8" stroke-width="0.55"/>
<rect x="505.86" y="444.82" width="11.81" height="8.52" fill="#fef0a8" stroke="#8c8fa8" stroke-width="0.55"/>
<rect x="517.67" y="444.82" width="11.81" height="8.52" fill="#fef0a8" stroke="#8c8fa8" stroke-width="0.55"/>
<rect x="529.49" y="444.82" width="11.81" height="8.52" fill="#fff7b3" stroke="#8c8fa8" stroke-width="0.55"/>
<rect x="446.80" y="453.34" width="11.81" height="8.52" fill="#fee89c" stroke="#8c8fa8" stroke-width="0.55"/>
<rect x="458.61" y="453.34" width="11.81" height="8.52" fill="#fee090" stroke="#8c8fa8" stroke-width="0.55"/>
<rect x="470.43" y="453.34" width="11.81" height="8.52" fill="#fdbd79" stroke="#8c8fa8" stroke-width="0.55"/>
<rect x="482.24" y="453.34" width="11.81" height="8.52" fill="#fdab6d" stroke="#8c8fa8" stroke-width="0.55"/>
<rect x="494.05" y="453.34" width="11.81" height="8.52" fill="#fdab6d" stroke="#8c8fa8" stroke-width="0.55"/>
<rect x="505.86" y="453.34" width="11.81" height="8.52" fill="#fef0a8" stroke="#8c8fa8" stroke-width="0.55"/>
<rect x="517.67" y="453.34" width="11.81" height="8.52" fill="#fee89c" stroke="#8c8fa8" stroke-width="0.55"/>
<rect x="529.49" y="453.34" width="11.81" height="8.52" fill="#fece84" stroke="#8c8fa8" stroke-width="0.55"/>
<rect x="446.80" y="461.86" width="11.81" height="8.52" fill="#fdbd79" stroke="#8c8fa8" stroke-width="0.55"/>
<rect x="458.61" y="461.86" width="11.81" height="8.52" fill="#fef0a8" stroke="#8c8fa8" stroke-width="0.55"/>
<rect x="470.43" y="461.86" width="11.81" height="8.52" fill="#fdbd79" stroke="#8c8fa8" stroke-width="0.55"/>
<rect x="482.24" y="461.86" width="11.81" height="8.52" fill="#fdbd79" stroke="#8c8fa8" stroke-width="0.55"/>
<rect x="494.05" y="461.86" width="11.81" height="8.52" fill="#fee89c" stroke="#8c8fa8" stroke-width="0.55"/>
<rect x="505.86" y="461.86" width="11.81" height="8.52" fill="#fece84" stroke="#8c8fa8" stroke-width="0.55"/>
<rect x="517.67" y="461.86" width="11.81" height="8.52" fill="#fee89c" stroke="#8c8fa8" stroke-width="0.55"/>
<rect x="529.49" y="461.86" width="11.81" height="8.52" fill="#fef0a8" stroke="#8c8fa8" stroke-width="0.55"/>
<rect x="446.80" y="470.38" width="11.81" height="8.52" fill="#fdbd79" stroke="#8c8fa8" stroke-width="0.55"/>
<rect x="458.61" y="470.38" width="11.81" height="8.52" fill="#fee090" stroke="#8c8fa8" stroke-width="0.55"/>
<rect x="470.43" y="470.38" width="11.81" height="8.52" fill="#fdbd79" stroke="#8c8fa8" stroke-width="0.55"/>
<rect x="482.24" y="470.38" width="11.81" height="8.52" fill="#fdbd79" stroke="#8c8fa8" stroke-width="0.55"/>
<rect x="494.05" y="470.38" width="11.81" height="8.52" fill="#fee89c" stroke="#8c8fa8" stroke-width="0.55"/>
<rect x="505.86" y="470.38" width="11.81" height="8.52" fill="#fece84" stroke="#8c8fa8" stroke-width="0.55"/>
<rect x="517.67" y="470.38" width="11.81" height="8.52" fill="#fee89c" stroke="#8c8fa8" stroke-width="0.55"/>
<rect x="529.49" y="470.38" width="11.81" height="8.52" fill="#fee89c" stroke="#8c8fa8" stroke-width="0.55"/>
<rect x="446.80" y="478.90" width="11.81" height="8.52" fill="#fdbd79" stroke="#8c8fa8" stroke-width="0.55"/>
<rect x="458.61" y="478.90" width="11.81" height="8.52" fill="#fdbd79" stroke="#8c8fa8" stroke-width="0.55"/>
<rect x="470.43" y="478.90" width="11.81" height="8.52" fill="#fece84" stroke="#8c8fa8" stroke-width="0.55"/>
<rect x="482.24" y="478.90" width="11.81" height="8.52" fill="#fdab6d" stroke="#8c8fa8" stroke-width="0.55"/>
<rect x="494.05" y="478.90" width="11.81" height="8.52" fill="#fee89c" stroke="#8c8fa8" stroke-width="0.55"/>
<rect x="505.86" y="478.90" width="11.81" height="8.52" fill="#fece84" stroke="#8c8fa8" stroke-width="0.55"/>
<rect x="517.67" y="478.90" width="11.81" height="8.52" fill="#fff7b3" stroke="#8c8fa8" stroke-width="0.55"/>
<rect x="529.49" y="478.90" width="11.81" height="8.52" fill="#ffffbf" stroke="#8c8fa8" stroke-width="0.55"/>
<rect x="446.80" y="487.42" width="11.81" height="8.52" fill="#fdbd79" stroke="#8c8fa8" stroke-width="0.55"/>
<rect x="458.61" y="487.42" width="11.81" height="8.52" fill="#fef0a8" stroke="#8c8fa8" stroke-width="0.55"/>
<rect x="470.43" y="487.42" width="11.81" height="8.52" fill="#fece84" stroke="#8c8fa8" stroke-width="0.55"/>
<rect x="482.24" y="487.42" width="11.81" height="8.52" fill="#fece84" stroke="#8c8fa8" stroke-width="0.55"/>
<rect x="494.05" y="487.42" width="11.81" height="8.52" fill="#fece84" stroke="#8c8fa8" stroke-width="0.55"/>
<rect x="505.86" y="487.42" width="11.81" height="8.52" fill="#fee090" stroke="#8c8fa8" stroke-width="0.55"/>
<rect x="517.67" y="487.42" width="11.81" height="8.52" fill="#fee090" stroke="#8c8fa8" stroke-width="0.55"/>
<rect x="529.49" y="487.42" width="11.81" height="8.52" fill="#fee89c" stroke="#8c8fa8" stroke-width="0.55"/>
<rect x="446.80" y="495.94" width="11.81" height="8.52" fill="#fece84" stroke="#8c8fa8" stroke-width="0.55"/>
<rect x="458.61" y="495.94" width="11.81" height="8.52" fill="#fece84" stroke="#8c8fa8" stroke-width="0.55"/>
<rect x="470.43" y="495.94" width="11.81" height="8.52" fill="#fece84" stroke="#8c8fa8" stroke-width="0.55"/>
<rect x="482.24" y="495.94" width="11.81" height="8.52" fill="#fece84" stroke="#8c8fa8" stroke-width="0.55"/>
<rect x="494.05" y="495.94" width="11.81" height="8.52" fill="#fece84" stroke="#8c8fa8" stroke-width="0.55"/>
<rect x="505.86" y="495.94" width="11.81" height="8.52" fill="#fef0a8" stroke="#8c8fa8" stroke-width="0.55"/>
<rect x="517.67" y="495.94" width="11.81" height="8.52" fill="#fee89c" stroke="#8c8fa8" stroke-width="0.55"/>
<rect x="529.49" y="495.94" width="11.81" height="8.52" fill="#fee89c" stroke="#8c8fa8" stroke-width="0.55"/>
<rect x="446.80" y="504.46" width="11.81" height="8.52" fill="#fdab6d" stroke="#8c8fa8" stroke-width="0.55"/>
<rect x="458.61" y="504.46" width="11.81" height="8.52" fill="#fee090" stroke="#8c8fa8" stroke-width="0.55"/>
<rect x="470.43" y="504.46" width="11.81" height="8.52" fill="#fdbd79" stroke="#8c8fa8" stroke-width="0.55"/>
<rect x="482.24" y="504.46" width="11.81" height="8.52" fill="#fdbd79" stroke="#8c8fa8" stroke-width="0.55"/>
<rect x="494.05" y="504.46" width="11.81" height="8.52" fill="#fece84" stroke="#8c8fa8" stroke-width="0.55"/>
<rect x="505.86" y="504.46" width="11.81" height="8.52" fill="#fee89c" stroke="#8c8fa8" stroke-width="0.55"/>
<rect x="517.67" y="504.46" width="11.81" height="8.52" fill="#fee89c" stroke="#8c8fa8" stroke-width="0.55"/>
<rect x="529.49" y="504.46" width="11.81" height="8.52" fill="#fef0a8" stroke="#8c8fa8" stroke-width="0.55"/>
<rect x="446.80" y="512.98" width="11.81" height="8.52" fill="#fee090" stroke="#8c8fa8" stroke-width="0.55"/>
<rect x="458.61" y="512.98" width="11.81" height="8.52" fill="#fee090" stroke="#8c8fa8" stroke-width="0.55"/>
<rect x="470.43" y="512.98" width="11.81" height="8.52" fill="#fdab6d" stroke="#8c8fa8" stroke-width="0.55"/>
<rect x="482.24" y="512.98" width="11.81" height="8.52" fill="#fee090" stroke="#8c8fa8" stroke-width="0.55"/>
<rect x="494.05" y="512.98" width="11.81" height="8.52" fill="#fdbd79" stroke="#8c8fa8" stroke-width="0.55"/>
<rect x="505.86" y="512.98" width="11.81" height="8.52" fill="#fee090" stroke="#8c8fa8" stroke-width="0.55"/>
<rect x="517.67" y="512.98" width="11.81" height="8.52" fill="#fee89c" stroke="#8c8fa8" stroke-width="0.55"/>
<rect x="529.49" y="512.98" width="11.81" height="8.52" fill="#fff7b3" stroke="#8c8fa8" stroke-width="0.55"/>
<rect x="446.80" y="521.50" width="11.81" height="8.52" fill="#fee090" stroke="#8c8fa8" stroke-width="0.55"/>
<rect x="458.61" y="521.50" width="11.81" height="8.52" fill="#fece84" stroke="#8c8fa8" stroke-width="0.55"/>
<rect x="470.43" y="521.50" width="11.81" height="8.52" fill="#fdbd79" stroke="#8c8fa8" stroke-width="0.55"/>
<rect x="482.24" y="521.50" width="11.81" height="8.52" fill="#fece84" stroke="#8c8fa8" stroke-width="0.55"/>
<rect x="494.05" y="521.50" width="11.81" height="8.52" fill="#fee090" stroke="#8c8fa8" stroke-width="0.55"/>
<rect x="505.86" y="521.50" width="11.81" height="8.52" fill="#fee090" stroke="#8c8fa8" stroke-width="0.55"/>
<rect x="517.67" y="521.50" width="11.81" height="8.52" fill="#fee090" stroke="#8c8fa8" stroke-width="0.55"/>
<rect x="529.49" y="521.50" width="11.81" height="8.52" fill="#fee090" stroke="#8c8fa8" stroke-width="0.55"/>
<rect x="446.80" y="530.02" width="11.81" height="8.52" fill="#fee090" stroke="#8c8fa8" stroke-width="0.55"/>
<rect x="458.61" y="530.02" width="11.81" height="8.52" fill="#fdbd79" stroke="#8c8fa8" stroke-width="0.55"/>
<rect x="470.43" y="530.02" width="11.81" height="8.52" fill="#fdbd79" stroke="#8c8fa8" stroke-width="0.55"/>
<rect x="482.24" y="530.02" width="11.81" height="8.52" fill="#fece84" stroke="#8c8fa8" stroke-width="0.55"/>
<rect x="494.05" y="530.02" width="11.81" height="8.52" fill="#fdbd79" stroke="#8c8fa8" stroke-width="0.55"/>
<rect x="505.86" y="530.02" width="11.81" height="8.52" fill="#fee090" stroke="#8c8fa8" stroke-width="0.55"/>
<rect x="517.67" y="530.02" width="11.81" height="8.52" fill="#fee89c" stroke="#8c8fa8" stroke-width="0.55"/>
<rect x="529.49" y="530.02" width="11.81" height="8.52" fill="#fef0a8" stroke="#8c8fa8" stroke-width="0.55"/>
<rect x="446.80" y="538.54" width="11.81" height="8.52" fill="#fee89c" stroke="#8c8fa8" stroke-width="0.55"/>
<rect x="458.61" y="538.54" width="11.81" height="8.52" fill="#fee090" stroke="#8c8fa8" stroke-width="0.55"/>
<rect x="470.43" y="538.54" width="11.81" height="8.52" fill="#fdbd79" stroke="#8c8fa8" stroke-width="0.55"/>
<rect x="482.24" y="538.54" width="11.81" height="8.52" fill="#fff7b3" stroke="#8c8fa8" stroke-width="0.55"/>
<rect x="494.05" y="538.54" width="11.81" height="8.52" fill="#e0f3f8" stroke="#8c8fa8" stroke-width="0.55"/>
<rect x="505.86" y="538.54" width="11.81" height="8.52" fill="#fdab6d" stroke="#8c8fa8" stroke-width="0.55"/>
<rect x="517.67" y="538.54" width="11.81" height="8.52" fill="#fece84" stroke="#8c8fa8" stroke-width="0.55"/>
<rect x="529.49" y="538.54" width="11.81" height="8.52" fill="#fee090" stroke="#8c8fa8" stroke-width="0.55"/>
<rect x="446.80" y="547.06" width="11.81" height="8.52" fill="#fee090" stroke="#8c8fa8" stroke-width="0.55"/>
<rect x="458.61" y="547.06" width="11.81" height="8.52" fill="#fee090" stroke="#8c8fa8" stroke-width="0.55"/>
<rect x="470.43" y="547.06" width="11.81" height="8.52" fill="#fdab6d" stroke="#8c8fa8" stroke-width="0.55"/>
<rect x="482.24" y="547.06" width="11.81" height="8.52" fill="#fff7b3" stroke="#8c8fa8" stroke-width="0.55"/>
<rect x="494.05" y="547.06" width="11.81" height="8.52" fill="#fee090" stroke="#8c8fa8" stroke-width="0.55"/>
<rect x="505.86" y="547.06" width="11.81" height="8.52" fill="#fee89c" stroke="#8c8fa8" stroke-width="0.55"/>
<rect x="517.67" y="547.06" width="11.81" height="8.52" fill="#fdab6d" stroke="#8c8fa8" stroke-width="0.55"/>
<rect x="529.49" y="547.06" width="11.81" height="8.52" fill="#fee090" stroke="#8c8fa8" stroke-width="0.55"/>
<rect x="446.80" y="555.58" width="11.81" height="8.52" fill="#fee090" stroke="#8c8fa8" stroke-width="0.55"/>
<rect x="458.61" y="555.58" width="11.81" height="8.52" fill="#fece84" stroke="#8c8fa8" stroke-width="0.55"/>
<rect x="470.43" y="555.58" width="11.81" height="8.52" fill="#fece84" stroke="#8c8fa8" stroke-width="0.55"/>
<rect x="482.24" y="555.58" width="11.81" height="8.52" fill="#fee89c" stroke="#8c8fa8" stroke-width="0.55"/>
<rect x="494.05" y="555.58" width="11.81" height="8.52" fill="#fee090" stroke="#8c8fa8" stroke-width="0.55"/>
<rect x="505.86" y="555.58" width="11.81" height="8.52" fill="#fee89c" stroke="#8c8fa8" stroke-width="0.55"/>
<rect x="517.67" y="555.58" width="11.81" height="8.52" fill="#fece84" stroke="#8c8fa8" stroke-width="0.55"/>
<rect x="529.49" y="555.58" width="11.81" height="8.52" fill="#fc9961" stroke="#8c8fa8" stroke-width="0.55"/>
<rect x="446.80" y="567.40" width="11.81" height="8.52" fill="#5888be" stroke="#8c8fa8" stroke-width="0.55"/>
<rect x="458.61" y="567.40" width="11.81" height="8.52" fill="#ffffbf" stroke="#8c8fa8" stroke-width="0.55"/>
<rect x="470.43" y="567.40" width="11.81" height="8.52" fill="#fff7b3" stroke="#8c8fa8" stroke-width="0.55"/>
<rect x="482.24" y="567.40" width="11.81" height="8.52" fill="#a5cce2" stroke="#8c8fa8" stroke-width="0.55"/>
<rect x="494.05" y="567.40" width="11.81" height="8.52" fill="#f0f9dc" stroke="#8c8fa8" stroke-width="0.55"/>
<rect x="505.86" y="567.40" width="11.81" height="8.52" fill="#fee090" stroke="#8c8fa8" stroke-width="0.55"/>
<rect x="517.67" y="567.40" width="11.81" height="8.52" fill="#cce6f1" stroke="#8c8fa8" stroke-width="0.55"/>
<rect x="529.49" y="567.40" width="11.81" height="8.52" fill="#f7fccd" stroke="#8c8fa8" stroke-width="0.55"/>
<rect x="446.80" y="575.92" width="11.81" height="8.52" fill="#7eacd1" stroke="#8c8fa8" stroke-width="0.55"/>
<rect x="458.61" y="575.92" width="11.81" height="8.52" fill="#e8f6ea" stroke="#8c8fa8" stroke-width="0.55"/>
<rect x="470.43" y="575.92" width="11.81" height="8.52" fill="#fee89c" stroke="#8c8fa8" stroke-width="0.55"/>
<rect x="482.24" y="575.92" width="11.81" height="8.52" fill="#b8d9ea" stroke="#8c8fa8" stroke-width="0.55"/>
<rect x="494.05" y="575.92" width="11.81" height="8.52" fill="#91bfdb" stroke="#8c8fa8" stroke-width="0.55"/>
<rect x="505.86" y="575.92" width="11.81" height="8.52" fill="#fee090" stroke="#8c8fa8" stroke-width="0.55"/>
<rect x="517.67" y="575.92" width="11.81" height="8.52" fill="#fdbd79" stroke="#8c8fa8" stroke-width="0.55"/>
<rect x="529.49" y="575.92" width="11.81" height="8.52" fill="#fff7b3" stroke="#8c8fa8" stroke-width="0.55"/>
<rect x="446.80" y="584.44" width="11.81" height="8.52" fill="#fee89c" stroke="#8c8fa8" stroke-width="0.55"/>
<rect x="458.61" y="584.44" width="11.81" height="8.52" fill="#fff7b3" stroke="#8c8fa8" stroke-width="0.55"/>
<rect x="470.43" y="584.44" width="11.81" height="8.52" fill="#fee090" stroke="#8c8fa8" stroke-width="0.55"/>
<rect x="482.24" y="584.44" width="11.81" height="8.52" fill="#a5cce2" stroke="#8c8fa8" stroke-width="0.55"/>
<rect x="494.05" y="584.44" width="11.81" height="8.52" fill="#fee89c" stroke="#8c8fa8" stroke-width="0.55"/>
<rect x="505.86" y="584.44" width="11.81" height="8.52" fill="#f7fccd" stroke="#8c8fa8" stroke-width="0.55"/>
<rect x="517.67" y="584.44" width="11.81" height="8.52" fill="#fef0a8" stroke="#8c8fa8" stroke-width="0.55"/>
<rect x="529.49" y="584.44" width="11.81" height="8.52" fill="#f7fccd" stroke="#8c8fa8" stroke-width="0.55"/>
<rect x="446.80" y="592.96" width="11.81" height="8.52" fill="#fee89c" stroke="#8c8fa8" stroke-width="0.55"/>
<rect x="458.61" y="592.96" width="11.81" height="8.52" fill="#e0f3f8" stroke="#8c8fa8" stroke-width="0.55"/>
<rect x="470.43" y="592.96" width="11.81" height="8.52" fill="#f0f9dc" stroke="#8c8fa8" stroke-width="0.55"/>
<rect x="482.24" y="592.96" width="11.81" height="8.52" fill="#f0f9dc" stroke="#8c8fa8" stroke-width="0.55"/>
<rect x="494.05" y="592.96" width="11.81" height="8.52" fill="#7eacd1" stroke="#8c8fa8" stroke-width="0.55"/>
<rect x="505.86" y="592.96" width="11.81" height="8.52" fill="#fef0a8" stroke="#8c8fa8" stroke-width="0.55"/>
<rect x="517.67" y="592.96" width="11.81" height="8.52" fill="#fef0a8" stroke="#8c8fa8" stroke-width="0.55"/>
<rect x="529.49" y="592.96" width="11.81" height="8.52" fill="#e0f3f8" stroke="#8c8fa8" stroke-width="0.55"/>
<rect x="446.80" y="601.48" width="11.81" height="8.52" fill="#fed589" stroke="#8c8fa8" stroke-width="0.55"/>
<rect x="458.61" y="601.48" width="11.81" height="8.52" fill="#e0f3f8" stroke="#8c8fa8" stroke-width="0.55"/>
<rect x="470.43" y="601.48" width="11.81" height="8.52" fill="#f7fccd" stroke="#8c8fa8" stroke-width="0.55"/>
<rect x="482.24" y="601.48" width="11.81" height="8.52" fill="#e0f3f8" stroke="#8c8fa8" stroke-width="0.55"/>
<rect x="494.05" y="601.48" width="11.81" height="8.52" fill="#b8d9ea" stroke="#8c8fa8" stroke-width="0.55"/>
<rect x="505.86" y="601.48" width="11.81" height="8.52" fill="#fef0a8" stroke="#8c8fa8" stroke-width="0.55"/>
<rect x="517.67" y="601.48" width="11.81" height="8.52" fill="#fef0a8" stroke="#8c8fa8" stroke-width="0.55"/>
<rect x="529.49" y="601.48" width="11.81" height="8.52" fill="#f4fbd3" stroke="#8c8fa8" stroke-width="0.55"/>
<rect x="348.80" y="369.0" width="11.85" height="10.10" fill="#e6ab25" stroke="#8c8fa8" stroke-width="0.6"/>
<rect x="360.65" y="369.0" width="11.85" height="10.10" fill="#262626" stroke="#8c8fa8" stroke-width="0.6"/>
<rect x="372.50" y="369.0" width="11.85" height="10.10" fill="#e6ab25" stroke="#8c8fa8" stroke-width="0.6"/>
<rect x="384.35" y="369.0" width="11.85" height="10.10" fill="#7169b4" stroke="#8c8fa8" stroke-width="0.6"/>
<rect x="396.20" y="369.0" width="11.85" height="10.10" fill="#e6ab25" stroke="#8c8fa8" stroke-width="0.6"/>
<rect x="408.05" y="369.0" width="11.85" height="10.10" fill="#7169b4" stroke="#8c8fa8" stroke-width="0.6"/>
<rect x="419.90" y="369.0" width="11.85" height="10.10" fill="#262626" stroke="#8c8fa8" stroke-width="0.6"/>
<rect x="431.75" y="369.0" width="11.85" height="10.10" fill="#262626" stroke="#8c8fa8" stroke-width="0.6"/>
<rect x="446.80" y="369.0" width="11.81" height="10.10" fill="#262626" stroke="#8c8fa8" stroke-width="0.6"/>
<rect x="458.61" y="369.0" width="11.81" height="10.10" fill="#7169b4" stroke="#8c8fa8" stroke-width="0.6"/>
<rect x="470.43" y="369.0" width="11.81" height="10.10" fill="#262626" stroke="#8c8fa8" stroke-width="0.6"/>
<rect x="482.24" y="369.0" width="11.81" height="10.10" fill="#e6ab25" stroke="#8c8fa8" stroke-width="0.6"/>
<rect x="494.05" y="369.0" width="11.81" height="10.10" fill="#e6ab25" stroke="#8c8fa8" stroke-width="0.6"/>
<rect x="505.86" y="369.0" width="11.81" height="10.10" fill="#7169b4" stroke="#8c8fa8" stroke-width="0.6"/>
<rect x="517.67" y="369.0" width="11.81" height="10.10" fill="#e6ab25" stroke="#8c8fa8" stroke-width="0.6"/>
<rect x="529.49" y="369.0" width="11.81" height="10.10" fill="#262626" stroke="#8c8fa8" stroke-width="0.6"/>
<rect x="348.80" y="380.8" width="11.85" height="10.20" fill="#f57f20" stroke="#8c8fa8" stroke-width="0.6"/>
<rect x="360.65" y="380.8" width="11.85" height="10.20" fill="#f57f20" stroke="#8c8fa8" stroke-width="0.6"/>
<rect x="372.50" y="380.8" width="11.85" height="10.20" fill="#f57f20" stroke="#8c8fa8" stroke-width="0.6"/>
<rect x="384.35" y="380.8" width="11.85" height="10.20" fill="#f57f20" stroke="#8c8fa8" stroke-width="0.6"/>
<rect x="396.20" y="380.8" width="11.85" height="10.20" fill="#f57f20" stroke="#8c8fa8" stroke-width="0.6"/>
<rect x="408.05" y="380.8" width="11.85" height="10.20" fill="#f57f20" stroke="#8c8fa8" stroke-width="0.6"/>
<rect x="419.90" y="380.8" width="11.85" height="10.20" fill="#f57f20" stroke="#8c8fa8" stroke-width="0.6"/>
<rect x="431.75" y="380.8" width="11.85" height="10.20" fill="#f57f20" stroke="#8c8fa8" stroke-width="0.6"/>
<rect x="446.80" y="380.8" width="11.81" height="10.20" fill="#1b8c3f" stroke="#8c8fa8" stroke-width="0.6"/>
<rect x="458.61" y="380.8" width="11.81" height="10.20" fill="#1b8c3f" stroke="#8c8fa8" stroke-width="0.6"/>
<rect x="470.43" y="380.8" width="11.81" height="10.20" fill="#1b8c3f" stroke="#8c8fa8" stroke-width="0.6"/>
<rect x="482.24" y="380.8" width="11.81" height="10.20" fill="#1b8c3f" stroke="#8c8fa8" stroke-width="0.6"/>
<rect x="494.05" y="380.8" width="11.81" height="10.20" fill="#1b8c3f" stroke="#8c8fa8" stroke-width="0.6"/>
<rect x="505.86" y="380.8" width="11.81" height="10.20" fill="#1b8c3f" stroke="#8c8fa8" stroke-width="0.6"/>
<rect x="517.67" y="380.8" width="11.81" height="10.20" fill="#1b8c3f" stroke="#8c8fa8" stroke-width="0.6"/>
<rect x="529.49" y="380.8" width="11.81" height="10.20" fill="#1b8c3f" stroke="#8c8fa8" stroke-width="0.6"/>
<text x="544" y="401.16" font-size="8.4" fill="#111" text-anchor="start" textLength="16.9" lengthAdjust="spacingAndGlyphs" stroke="#111" stroke-width="0.18">EEF2</text>
<text x="544" y="409.68" font-size="8.4" fill="#111" text-anchor="start" textLength="23.3" lengthAdjust="spacingAndGlyphs" stroke="#111" stroke-width="0.18">RPLP0</text>
<text x="544" y="418.20" font-size="8.4" fill="#111" text-anchor="start" textLength="31.7" lengthAdjust="spacingAndGlyphs" stroke="#111" stroke-width="0.18">DCN.NM</text>
<text x="544" y="426.72" font-size="8.4" fill="#111" text-anchor="start" textLength="30" lengthAdjust="spacingAndGlyphs" stroke="#111" stroke-width="0.18">FN1.286</text>
<text x="544" y="435.24" font-size="8.4" fill="#111" text-anchor="start" textLength="29.5" lengthAdjust="spacingAndGlyphs" stroke="#111" stroke-width="0.18">FN1.291</text>
<text x="544" y="443.76" font-size="8.4" fill="#111" text-anchor="start" textLength="22.1" lengthAdjust="spacingAndGlyphs" stroke="#111" stroke-width="0.18">TXNIP</text>
<text x="544" y="452.28" font-size="8.4" fill="#111" text-anchor="start" textLength="20.5" lengthAdjust="spacingAndGlyphs" stroke="#111" stroke-width="0.18">CCN2</text>
<text x="544" y="460.80" font-size="8.4" fill="#111" text-anchor="start" textLength="26.4" lengthAdjust="spacingAndGlyphs" stroke="#111" stroke-width="0.18">FRMD8</text>
<text x="544" y="469.32" font-size="8.4" fill="#111" text-anchor="start" textLength="22.9" lengthAdjust="spacingAndGlyphs" stroke="#111" stroke-width="0.18">PRELP</text>
<text x="544" y="477.84" font-size="8.4" fill="#111" text-anchor="start" textLength="15" lengthAdjust="spacingAndGlyphs" stroke="#111" stroke-width="0.18">CLU</text>
<text x="544" y="486.36" font-size="8.4" fill="#111" text-anchor="start" textLength="31.2" lengthAdjust="spacingAndGlyphs" stroke="#111" stroke-width="0.18">DCN.XM</text>
<text x="544" y="494.88" font-size="8.4" fill="#111" text-anchor="start" textLength="23.3" lengthAdjust="spacingAndGlyphs" stroke="#111" stroke-width="0.18">COMP</text>
<text x="544" y="503.40" font-size="8.4" fill="#111" text-anchor="start" textLength="24.0" lengthAdjust="spacingAndGlyphs" stroke="#111" stroke-width="0.18">THBS4</text>
<text x="544" y="511.92" font-size="8.4" fill="#111" text-anchor="start" textLength="19.8" lengthAdjust="spacingAndGlyphs" stroke="#111" stroke-width="0.18">GPX3</text>
<text x="544" y="520.44" font-size="8.4" fill="#111" text-anchor="start" textLength="22.4" lengthAdjust="spacingAndGlyphs" stroke="#111" stroke-width="0.18">TIMP2</text>
<text x="544" y="528.96" font-size="8.4" fill="#111" text-anchor="start" textLength="13.5" lengthAdjust="spacingAndGlyphs" stroke="#111" stroke-width="0.18">CAT</text>
<text x="544" y="537.48" font-size="8.4" fill="#111" text-anchor="start" textLength="14.5" lengthAdjust="spacingAndGlyphs" stroke="#111" stroke-width="0.18">LOX</text>
<text x="544" y="546.00" font-size="8.4" fill="#111" text-anchor="start" textLength="27.2" lengthAdjust="spacingAndGlyphs" stroke="#111" stroke-width="0.18">CAVIN1</text>
<text x="544" y="554.52" font-size="8.4" fill="#111" text-anchor="start" textLength="27.2" lengthAdjust="spacingAndGlyphs" stroke="#111" stroke-width="0.18">EEF1A1</text>
<text x="544" y="563.04" font-size="8.4" fill="#111" text-anchor="start" textLength="24.2" lengthAdjust="spacingAndGlyphs" stroke="#111" stroke-width="0.18">RPS3A</text>
<text x="544" y="574.86" font-size="8.4" fill="#111" text-anchor="start" textLength="15.9" lengthAdjust="spacingAndGlyphs" stroke="#111" stroke-width="0.18">GSN</text>
<text x="544" y="583.38" font-size="8.4" fill="#111" text-anchor="start" textLength="27.4" lengthAdjust="spacingAndGlyphs" stroke="#111" stroke-width="0.18">AHNAK</text>
<text x="544" y="591.90" font-size="8.4" fill="#111" text-anchor="start" textLength="13.9" lengthAdjust="spacingAndGlyphs" stroke="#111" stroke-width="0.18">VIM</text>
<text x="544" y="600.42" font-size="8.4" fill="#111" text-anchor="start" textLength="30.2" lengthAdjust="spacingAndGlyphs" stroke="#111" stroke-width="0.18">COL1A2</text>
<text x="544" y="608.94" font-size="8.4" fill="#111" text-anchor="start" textLength="29.4" lengthAdjust="spacingAndGlyphs" stroke="#111" stroke-width="0.18">COL1A1</text>
<text x="544" y="377.2" font-size="9.6" fill="#111" text-anchor="start" textLength="16.2" lengthAdjust="spacingAndGlyphs" stroke="#111" stroke-width="0.15">Age</text>
<text x="544" y="389.5" font-size="9.6" fill="#111" text-anchor="start" textLength="15" lengthAdjust="spacingAndGlyphs" stroke="#111" stroke-width="0.15">Cell</text>
<text transform="translate(353.73,613.9) rotate(-45)" font-size="8" fill="#111" stroke="#111" stroke-width="0.15" text-anchor="end" dy="5.5">M14</text>
<text transform="translate(365.57,613.9) rotate(-45)" font-size="8" fill="#111" stroke="#111" stroke-width="0.15" text-anchor="end" dy="5.5">M16</text>
<text transform="translate(377.43,613.9) rotate(-45)" font-size="8" fill="#111" stroke="#111" stroke-width="0.15" text-anchor="end" dy="5.5">M24</text>
<text transform="translate(389.28,613.9) rotate(-45)" font-size="8" fill="#111" stroke="#111" stroke-width="0.15" text-anchor="end" dy="5.5">M4</text>
<text transform="translate(401.12,613.9) rotate(-45)" font-size="8" fill="#111" stroke="#111" stroke-width="0.15" text-anchor="end" dy="5.5">M10</text>
<text transform="translate(412.98,613.9) rotate(-45)" font-size="8" fill="#111" stroke="#111" stroke-width="0.15" text-anchor="end" dy="5.5">M6</text>
<text transform="translate(424.83,613.9) rotate(-45)" font-size="8" fill="#111" stroke="#111" stroke-width="0.15" text-anchor="end" dy="5.5">M18</text>
<text transform="translate(436.68,613.9) rotate(-45)" font-size="8" fill="#111" stroke="#111" stroke-width="0.15" text-anchor="end" dy="5.5">M20</text>
<text transform="translate(451.71,613.9) rotate(-45)" font-size="8" fill="#111" stroke="#111" stroke-width="0.15" text-anchor="end" dy="5.5">M15</text>
<text transform="translate(463.52,613.9) rotate(-45)" font-size="8" fill="#111" stroke="#111" stroke-width="0.15" text-anchor="end" dy="5.5">M3</text>
<text transform="translate(475.33,613.9) rotate(-45)" font-size="8" fill="#111" stroke="#111" stroke-width="0.15" text-anchor="end" dy="5.5">M19</text>
<text transform="translate(487.14,613.9) rotate(-45)" font-size="8" fill="#111" stroke="#111" stroke-width="0.15" text-anchor="end" dy="5.5">M13</text>
<text transform="translate(498.96,613.9) rotate(-45)" font-size="8" fill="#111" stroke="#111" stroke-width="0.15" text-anchor="end" dy="5.5">M23</text>
<text transform="translate(510.77,613.9) rotate(-45)" font-size="8" fill="#111" stroke="#111" stroke-width="0.15" text-anchor="end" dy="5.5">M5</text>
<text transform="translate(522.58,613.9) rotate(-45)" font-size="8" fill="#111" stroke="#111" stroke-width="0.15" text-anchor="end" dy="5.5">M9</text>
<text transform="translate(534.39,613.9) rotate(-45)" font-size="8" fill="#111" stroke="#111" stroke-width="0.15" text-anchor="end" dy="5.5">M17</text>
<path d="M377.60 323.20H493.80M377.60 323.20V359.00M493.80 323.20V356.00M360.65 359.00H393.98M360.65 359.00V366.20M354.73 366.20H366.57M354.73 366.20V368.50M366.57 366.20V368.50M393.98 359.00V360.20M378.43 360.20H409.53M378.43 360.20V368.50M409.53 360.20V364.60M396.20 364.60H422.86M396.20 364.60V366.00M390.28 366.00H402.12M390.28 366.00V368.50M402.12 366.00V368.50M422.86 364.60V365.20M413.98 365.20H431.75M413.98 365.20V368.50M431.75 365.20V366.00M425.83 366.00H437.68M425.83 366.00V368.50M437.68 366.00V368.50M467.47 356.00H520.63M467.47 356.00V362.00M452.71 362.00H482.24M452.71 362.00V368.50M482.24 362.00V365.10M470.43 365.10H494.05M470.43 365.10V366.20M464.52 366.20H476.33M464.52 366.20V368.50M476.33 366.20V368.50M494.05 365.10V365.50M488.14 365.50H499.96M488.14 365.50V368.50M499.96 365.50V368.50M520.63 356.00V360.70M511.77 360.70H529.49M511.77 360.70V368.50M529.49 360.70V366.20M523.58 366.20H535.39M523.58 366.20V368.50M535.39 366.20V368.50M43.00 443.50V585.60M43.00 443.50H277.00M43.00 585.60H274.50M277.00 412.00V475.60M277.00 412.00H326.40M326.40 402.22V421.39M326.40 402.22H340.70M340.70 397.96V406.48M340.70 397.96H348.80M340.70 406.48H348.80M326.40 421.39H337.70M337.70 415.00V427.78M337.70 415.00H348.80M337.70 427.78H347.20M347.20 423.52V432.04M347.20 423.52H348.80M347.20 432.04H348.80M277.00 475.60H297.60M297.60 440.56V510.80M297.60 440.56H348.80M297.60 510.80H318.40M318.40 471.30V549.50M318.40 471.30H336.20M336.20 453.34V489.40M336.20 453.34H343.60M343.60 449.08V457.60M343.60 449.08H348.80M343.60 457.60H348.80M336.20 489.40H339.70M339.70 472.30V506.40M339.70 472.30H344.40M344.40 466.12V478.90M344.40 466.12H348.80M344.40 478.90H347.10M347.10 474.64V483.16M347.10 474.64H348.80M347.10 483.16H348.80M339.70 506.40H342.90M342.90 495.94V516.00M342.90 495.94H347.30M347.30 491.68V500.20M347.30 491.68H348.80M347.30 500.20H348.80M342.90 516.00H345.70M345.70 508.72V523.63M345.70 508.72H348.80M345.70 523.63H346.80M346.80 517.24V530.02M346.80 517.24H348.80M346.80 530.02H347.60M347.60 525.76V534.28M347.60 525.76H348.80M347.60 534.28H348.80M318.40 549.50H328.30M328.30 542.80V555.58M328.30 542.80H348.80M328.30 555.58H344.50M344.50 551.32V559.84M344.50 551.32H348.80M344.50 559.84H348.80M274.50 575.92V595.09M274.50 575.92H333.70M333.70 571.66V580.18M333.70 571.66H348.80M333.70 580.18H348.80M274.50 595.09H314.90M314.90 588.70V601.48M314.90 588.70H348.80M314.90 601.48H344.50M344.50 597.22V605.74M344.50 597.22H348.80M344.50 605.74H348.80" stroke="#1a1a1a" stroke-width="0.9" fill="none" stroke-linecap="square"/>
<defs><linearGradient id="cb" x1="0" y1="1" x2="0" y2="0">
<stop offset="0.0000" stop-color="#4575B4"/>
<stop offset="0.1667" stop-color="#91BFDB"/>
<stop offset="0.3333" stop-color="#E0F3F8"/>
<stop offset="0.5000" stop-color="#FFFFBF"/>
<stop offset="0.6667" stop-color="#FEE090"/>
<stop offset="0.8333" stop-color="#FC8D59"/>
<stop offset="1.0000" stop-color="#D73027"/>
</linearGradient></defs>
<rect x="586.0" y="368.0" width="9.3" height="127.6" fill="url(#cb)"/>
<text x="599" y="389.4" font-size="8.8" fill="#111" text-anchor="start" stroke="#111" stroke-width="0.15">2</text>
<text x="599" y="412.2" font-size="8.8" fill="#111" text-anchor="start" stroke="#111" stroke-width="0.15">1</text>
<text x="599" y="435.09999999999997" font-size="8.8" fill="#111" text-anchor="start" stroke="#111" stroke-width="0.15">0</text>
<text x="599" y="457.9" font-size="8.8" fill="#111" text-anchor="start" stroke="#111" stroke-width="0.15">−1</text>
<text x="599" y="480.8" font-size="8.8" fill="#111" text-anchor="start" stroke="#111" stroke-width="0.15">−2</text>
<text x="612.6" y="373.9" font-size="8.4" fill="#111" text-anchor="start" textLength="15" lengthAdjust="spacingAndGlyphs" stroke="#111" stroke-width="0.25">Age</text>
<rect x="612.6" y="377.20" width="12.8" height="12.2" fill="#7169b4" stroke="#8c8fa8" stroke-width="0.6"/>
<text x="627" y="386.10" font-size="8.4" fill="#111" text-anchor="start" textLength="41.7" lengthAdjust="spacingAndGlyphs" stroke="#111" stroke-width="0.28">Adolescent</text>
<rect x="612.6" y="389.40" width="12.8" height="12.2" fill="#e6ab25" stroke="#8c8fa8" stroke-width="0.6"/>
<text x="627" y="398.30" font-size="8.4" fill="#111" text-anchor="start" textLength="25" lengthAdjust="spacingAndGlyphs" stroke="#111" stroke-width="0.28">Midlife</text>
<rect x="612.6" y="401.60" width="12.8" height="12.2" fill="#262626" stroke="#8c8fa8" stroke-width="0.6"/>
<text x="627" y="410.50" font-size="8.4" fill="#111" text-anchor="start" textLength="31.4" lengthAdjust="spacingAndGlyphs" stroke="#111" stroke-width="0.28">Geriatric</text>
<text x="612.6" y="424.0" font-size="8.4" fill="#111" text-anchor="start" textLength="13.6" lengthAdjust="spacingAndGlyphs" stroke="#111" stroke-width="0.25">Cell</text>
<rect x="612.6" y="432.40" width="12.8" height="12.2" fill="#1b8c3f" stroke="#8c8fa8" stroke-width="0.6"/>
<text x="627" y="441.30" font-size="8.4" fill="#111" text-anchor="start" textLength="8.8" lengthAdjust="spacingAndGlyphs" stroke="#111" stroke-width="0.28">TP</text>
<rect x="612.6" y="444.60" width="12.8" height="12.2" fill="#f57f20" stroke="#8c8fa8" stroke-width="0.6"/>
<text x="627" y="453.50" font-size="8.4" fill="#111" text-anchor="start" textLength="13.1" lengthAdjust="spacingAndGlyphs" stroke="#111" stroke-width="0.28">Peri</text>
</g>
</svg></body></html>
